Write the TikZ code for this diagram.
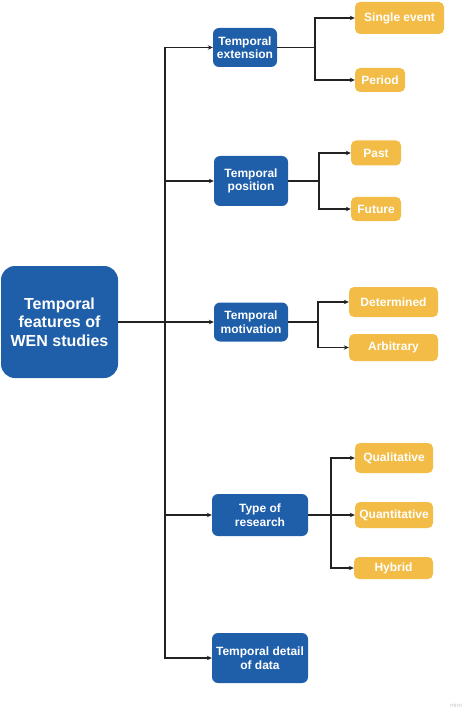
\documentclass[tikz,border=0pt]{standalone}
\usepackage{fontspec}
\setmainfont{Liberation Sans}
\usetikzlibrary{arrows.meta}
\definecolor{mblue}{HTML}{1F5FAA}
\definecolor{myellow}{HTML}{F3BC46}
\definecolor{linec}{HTML}{222222}
\begin{document}
\begin{tikzpicture}[x=1pt,y=-1pt,
  box/.style={inner sep=0pt, align=center, text=white, font=\bfseries\fontsize{12}{13.5}\selectfont},
  bluebox/.style={box, fill=mblue, rounded corners=6pt},
  ybox/.style={box, fill=myellow, rounded corners=5pt},
  arr/.style={draw=linec, line width=1.1pt, -{Stealth[length=5pt,width=4.5pt]}},
  ln/.style={draw=linec, line width=1.1pt}]
\useasboundingbox (0,0) rectangle (474,719);
\node[box, fill=mblue, rounded corners=14pt, minimum width=117pt, minimum height=112pt,
  font=\bfseries\fontsize{16}{18.5}\selectfont] (root) at (59.5,322) {Temporal\\features of\\WEN studies};
\node[bluebox, minimum width=64pt, minimum height=39pt] (te) at (245,47.5) {Temporal\\extension};
\node[bluebox, minimum width=74pt, minimum height=50pt] (tp) at (251,181) {Temporal\\position};
\node[bluebox, minimum width=74pt, minimum height=39pt] (tm) at (251,322) {Temporal\\motivation};
\node[bluebox, minimum width=96pt, minimum height=42pt] (tr) at (260,515) {Type of\\research};
\node[bluebox, minimum width=96pt, minimum height=50pt] (td) at (260,658) {Temporal detail\\of data};
\node[ybox, minimum width=89pt, minimum height=32pt] (se) at (399.5,18) {Single event};
\node[ybox, minimum width=50pt, minimum height=24pt] (pe) at (380,80) {Period};
\node[ybox, minimum width=50pt, minimum height=25pt] (pa) at (376,153) {Past};
\node[ybox, minimum width=50pt, minimum height=24pt] (fu) at (376,209) {Future};
\node[ybox, minimum width=89pt, minimum height=30pt] (de) at (393.5,302) {Determined};
\node[ybox, minimum width=89pt, minimum height=27pt] (ar) at (393.5,347.5) {Arbitrary};
\node[ybox, minimum width=78pt, minimum height=30pt] (ql) at (394,458) {Qualitative};
\node[ybox, minimum width=78pt, minimum height=26pt] (qn) at (394,515) {Quantitative};
\node[ybox, minimum width=79pt, minimum height=22pt] (hy) at (393.5,568) {Hybrid};
\node[text=gray!45, font=\fontsize{6}{7}\selectfont] (miro) at (456,705) {miro};
% trunk
\coordinate (j) at (165,322);
\draw[arr] (root.east) -- (tm.west);
\draw[arr] (j) |- (te.west);
\draw[arr] (j) |- (tp.west);
\draw[arr] (j) |- (tr.west);
\draw[arr] (j) |- (td.west);
% branches
\coordinate (b1) at (315,47.5);
\coordinate (b2) at (319,181);
\coordinate (b3) at (318,322);
\coordinate (b4) at (331,515);
\draw[ln] (te.east) -- (b1);
\draw[arr] (b1) |- (se.west);
\draw[arr] (b1) |- (pe.west);
\draw[ln] (tp.east) -- (b2);
\draw[arr] (b2) |- (pa.west);
\draw[arr] (b2) |- (fu.west);
\draw[ln] (tm.east) -- (b3);
\draw[arr] (b3) |- (de.west);
\draw[arr] (b3) |- (ar.west);
\draw[arr] (tr.east) -- (qn.west);
\draw[arr] (b4) |- (ql.west);
\draw[arr] (b4) |- (hy.west);
\end{tikzpicture}
\end{document}
